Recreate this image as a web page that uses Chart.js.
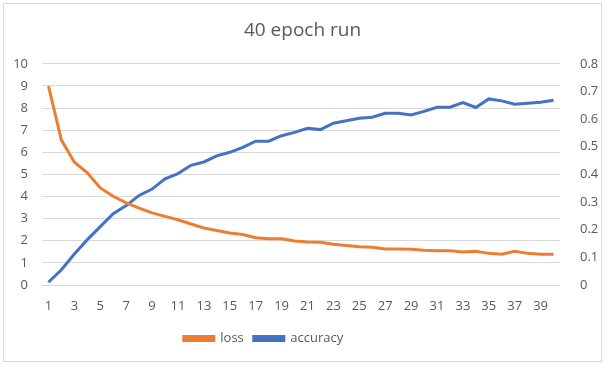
<!DOCTYPE html>
<html>
<head>
<meta charset="utf-8">
<script src="https://cdn.jsdelivr.net/npm/chart.js@4/dist/chart.umd.min.js"></script>
<style>
	body { margin: 0; background: #fff; }
	#frame { position: absolute; left: 3px; top: 3px; width: 597px; height: 357px; border: 1px solid #d9d9d9; }
	#chart { position: absolute; left: 0; top: 0; }
</style>
</head>
<body>
<div id="frame"></div>
<canvas id="chart" width="605" height="365"></canvas>
<script>
const epochs = [1, 2, 3, 4, 5, 6, 7, 8, 9, 10, 11, 12, 13, 14, 15, 16, 17, 18, 19, 20,
	21, 22, 23, 24, 25, 26, 27, 28, 29, 30, 31, 32, 33, 34, 35, 36, 37, 38, 39, 40];

const loss = [8.99, 6.55, 5.55, 5.07, 4.39, 4.01, 3.71, 3.48, 3.26, 3.10,
	2.95, 2.76, 2.58, 2.46, 2.35, 2.28, 2.14, 2.09, 2.09, 1.99,
	1.94, 1.93, 1.84, 1.79, 1.73, 1.71, 1.63, 1.63, 1.62, 1.57,
	1.55, 1.55, 1.49, 1.52, 1.43, 1.39, 1.52, 1.43, 1.39, 1.39];

const accuracy = [0.01, 0.055, 0.112, 0.164, 0.211, 0.258, 0.287, 0.324, 0.347, 0.384,
	0.403, 0.433, 0.445, 0.467, 0.480, 0.498, 0.520, 0.520, 0.540, 0.552,
	0.567, 0.562, 0.585, 0.594, 0.603, 0.607, 0.621, 0.621, 0.615, 0.628,
	0.643, 0.643, 0.660, 0.642, 0.673, 0.666, 0.654, 0.657, 0.661, 0.668];

const textColor = '#595959';
Chart.defaults.font.family = "'Open Sans', sans-serif";
Chart.defaults.color = textColor;

// the excel legend sits a bit left of centre
const legendShift = {
	id: 'legendShift',
	afterLayout(chart) {
		chart.legend.right -= 78;
	}
};

new Chart(document.getElementById('chart'), {
	type: 'line',
	data: {
		labels: epochs,
		datasets: [
			{
				label: 'loss',
				data: loss,
				borderColor: '#ED7D31',
				backgroundColor: '#ED7D31',
				borderWidth: 3,
				pointRadius: 0,
				tension: 0,
				yAxisID: 'y'
			},
			{
				label: 'accuracy',
				data: accuracy,
				borderColor: '#4472C4',
				backgroundColor: '#4472C4',
				borderWidth: 3,
				pointRadius: 0,
				tension: 0,
				yAxisID: 'y1'
			}
		]
	},
	plugins: [legendShift],
	options: {
		responsive: false,
		animation: false,
		devicePixelRatio: 1,
		layout: { padding: { top: 0, bottom: 10, left: 0, right: 0 } },
		plugins: {
			title: {
				display: true,
				text: '40 epoch run',
				color: textColor,
				font: { size: 19, weight: 'normal' },
				padding: { top: 19, bottom: 22 }
			},
			legend: {
				position: 'bottom',
				labels: { boxWidth: 30, boxHeight: 4, padding: 10, color: textColor, font: { size: 13 } }
			},
			tooltip: { enabled: false }
		},
		scales: {
			x: {
				offset: true,
				grid: { display: false },
				border: { display: false },
				ticks: {
					autoSkip: false,
					maxRotation: 0,
					padding: 5,
					font: { size: 13 },
					// every other epoch, like the original
					callback: function (value, index) {
						return index % 2 === 0 ? epochs[index] : '';
					}
				},
				afterFit: (scale) => { scale.height = 37; }
			},
			y: {
				position: 'left',
				min: 0,
				max: 10,
				ticks: { stepSize: 1, padding: 14, font: { size: 13 } },
				grid: { color: '#d9d9d9', drawTicks: false },
				border: { display: false },
				afterFit: (scale) => { scale.width = 42; }
			},
			y1: {
				position: 'right',
				min: 0,
				max: 0.8,
				ticks: { stepSize: 0.1, padding: 12, font: { size: 13 } },
				grid: { display: false },
				border: { display: false },
				afterFit: (scale) => { scale.width = 45; }
			}
		}
	}
});
</script>
</body>
</html>
